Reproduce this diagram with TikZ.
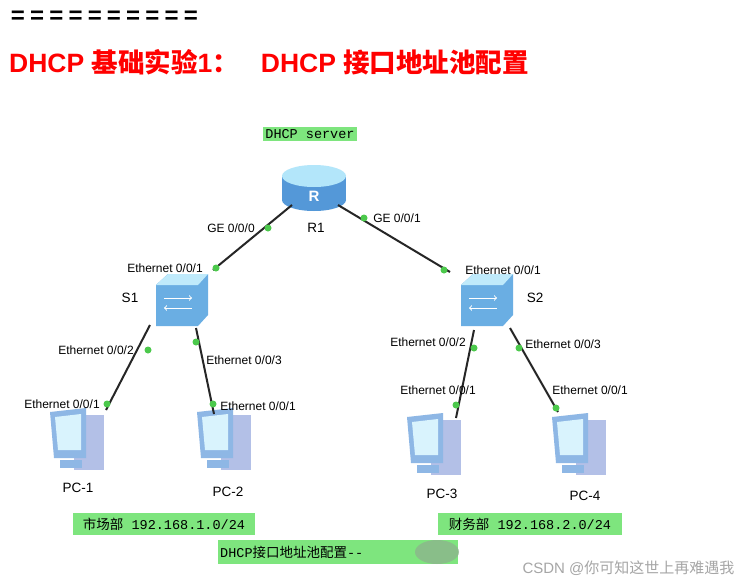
\documentclass[tikz,border=0pt]{standalone}
\usepackage{fontspec}
\setmainfont{Liberation Sans}
\setmonofont{Liberation Mono}
\newfontfamily\cjk{Noto Sans CJK SC}
\begin{document}
\begin{tikzpicture}[x=1pt,y=-1pt,
  port/.style={font=\fontsize{12}{13}\selectfont},
  dot/.style={circle,fill=green!70!black!70,inner sep=0pt,minimum size=7pt},
  lnk/.style={line width=2pt,black!85},
  glab/.style={fill=green!45!white!90!black,inner sep=2pt,font=\fontsize{13.5}{15}\selectfont\ttfamily},
  dev/.style={font=\fontsize{13.5}{15}\selectfont}]
\useasboundingbox (0,0) rectangle (751,586);
\fill[white] (0,0) rectangle (751,586);
\foreach \i in {0,...,9}
  \node[font=\bfseries\fontsize{24}{26}\selectfont,inner sep=0pt] (eq\i) at (18+19.2*\i,17) {=};
\node[anchor=west,text=red,font=\bfseries\fontsize{26.5}{30}\selectfont,inner sep=0pt] (title) at (9,62) {DHCP {\cjk 基础实验}1{\cjk ：}\ \ \ DHCP {\cjk 接口地址池配置}};
\node[glab] (srv) at (310,134) {DHCP server};
% router
\coordinate (R1) at (314,190);
\fill[cyan!60!blue!70] (282,176) rectangle (346,200);
\fill[cyan!60!blue!70] (314,200) ellipse (32 and 11);
\fill[cyan!30] (314,176) ellipse (32 and 11);
\node[white,font=\bfseries\fontsize{15}{15}\selectfont] at (314,196) {R};
\node[dev] (r1l) at (316,228) {R1};
% switches
\foreach \n/\x in {S1/180,S2/485}{
  \coordinate (\n) at (\x,298);
  \fill[cyan!70!blue!60] (\x-24,285) -- (\x-12,274) -- (\x+28,274) -- (\x+28,315) -- (\x+18,326) -- (\x-24,326) -- cycle;
  \fill[cyan!25] (\x-24,285) -- (\x-12,274) -- (\x+28,274) -- (\x+18,285) -- cycle;
  \draw[white,line width=1pt,->] (\x-16,298) -- (\x+12,298);
  \draw[white,line width=1pt,<-] (\x-16,308) -- (\x+12,308);
}
\node[dev] (s1l) at (130,298) {S1};
\node[dev] (s2l) at (535,298) {S2};
% PCs
\foreach \n/\x/\y in {P1/78/440,P2/225/440,P3/435/445,P4/580/445}{
  \coordinate (\n) at (\x,\y);
  \fill[cyan!40!blue!30] (\x-4,\y-25) rectangle (\x+26,\y+30);
  \fill[cyan!60!blue!45] (\x-28,\y-28) -- (\x+8,\y-32) -- (\x+8,\y+18) -- (\x-24,\y+18) -- cycle;
  \fill[cyan!15] (\x-23,\y-23) -- (\x+3,\y-26) -- (\x+3,\y+10) -- (\x-20,\y+10) -- cycle;
  \fill[cyan!60!blue!45] (\x-18,\y+20) rectangle (\x+4,\y+28);
}
\node[dev] (p1l) at (78,488) {PC-1};
\node[dev] (p2l) at (228,492) {PC-2};
\node[dev] (p3l) at (442,494) {PC-3};
\node[dev] (p4l) at (585,496) {PC-4};
% links
\draw[lnk] (292,205) -- (213,270);
\draw[lnk] (338,205) -- (450,272);
\draw[lnk] (150,325) -- (106,410);
\draw[lnk] (196,328) -- (214,414);
\draw[lnk] (474,330) -- (456,418);
\draw[lnk] (510,328) -- (558,412);
\foreach \p in {(268,228),(216,268),(364,218),(444,270),(148,350),(107,404),(196,342),(213,404),(474,348),(456,405),(519,348),(556,408)}
  \node[dot] at \p {};
\node[port] at (231,228) {GE 0/0/0};
\node[port] at (397,218) {GE 0/0/1};
\node[port] at (165,268) {Ethernet 0/0/1};
\node[port] at (503,270) {Ethernet 0/0/1};
\node[port] at (96,350) {Ethernet 0/0/2};
\node[port] at (244,360) {Ethernet 0/0/3};
\node[port] at (62,404) {Ethernet 0/0/1};
\node[port] at (258,406) {Ethernet 0/0/1};
\node[port] at (428,342) {Ethernet 0/0/2};
\node[port] at (563,344) {Ethernet 0/0/3};
\node[port] at (438,390) {Ethernet 0/0/1};
\node[port] at (590,390) {Ethernet 0/0/1};
\node[glab,minimum width=182pt,minimum height=22pt] (m) at (164,524) {{\cjk 市场部} 192.168.1.0/24};
\node[glab,minimum width=184pt,minimum height=22pt] (f) at (530,524) {{\cjk 财务部} 192.168.2.0/24};
\node[glab,anchor=west,minimum height=24pt,text width=236pt] (d) at (218,552) {DHCP{\cjk 接口地址池配置}--};
\fill[green!35!black!45,opacity=0.8] (437,552) ellipse (22 and 12);
\node[text=gray!70,anchor=east,font=\fontsize{15}{17}\selectfont] (wm) at (738,568) {CSDN @{\cjk 你可知这世上再难遇我}};
\end{tikzpicture}
\end{document}
